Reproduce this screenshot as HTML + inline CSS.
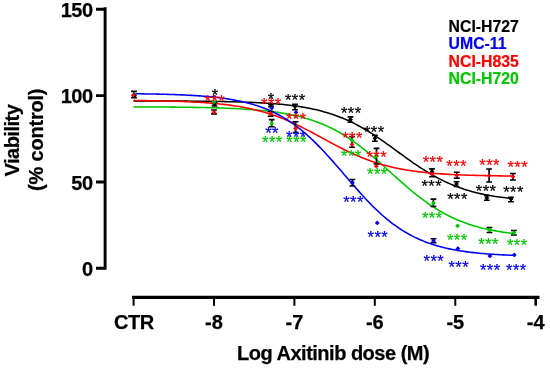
<!DOCTYPE html>
<html><head><meta charset="utf-8"><style>
html,body{margin:0;padding:0;background:#fff;width:550px;height:370px;overflow:hidden}
svg{display:block}
text{font-family:"Liberation Sans",Arial,sans-serif;font-weight:bold}
.st{font-weight:normal}
</style></head><body>
<svg width="550" height="370" viewBox="0 0 550 370">
<rect width="550" height="370" fill="#fff"/>
<g stroke="#000" stroke-width="2.9" fill="none">
<path d="M105.1,7.2 V269.7"/>
<path d="M96,9.3 H105 M96,95.6 H105 M96,182 H105 M96,268.3 H105"/>
</g>
<path d="M132,297.3 H539.5" stroke="#000" stroke-width="3.2"/>
<g stroke="#000" stroke-width="2" fill="none">
<path d="M133.6,297 V305.7 M214,297 V305.7 M294.4,297 V305.7 M374.8,297 V305.7 M455.3,297 V305.7"/>
<path d="M535.7,297 V305.7" stroke-width="2.6"/>
</g>
<g stroke="#000" stroke-width="0.25">
<g font-size="20" text-anchor="end" letter-spacing="-0.5" transform="translate(0,0.3)">
<text x="92.6" y="16.6">150</text>
<text x="92.6" y="102.9">100</text>
<text x="92.6" y="189.3">50</text>
<text x="92.6" y="275.6">0</text>
</g>
<g font-size="20" text-anchor="middle">
<text x="133.8" y="328.6" letter-spacing="-0.5">CTR</text>
<text x="214" y="328.6">-8</text>
<text x="294.4" y="328.6">-7</text>
<text x="374.8" y="328.6">-6</text>
<text x="455.3" y="328.6">-5</text>
<text x="535.7" y="328.6">-4</text>
</g>
<text x="333.1" y="359.6" font-size="20" text-anchor="middle" letter-spacing="-0.5">Log Axitinib dose (M)</text>
<g font-size="20" text-anchor="middle">
<text transform="translate(19.3,140.6) rotate(-90)" letter-spacing="-0.5">Viability</text>
<text transform="translate(43.2,139.8) rotate(-90)" letter-spacing="-0.2">(% control)</text>
</g>
</g>
<g font-size="15.8" stroke-width="0.2">
<text x="448.6" y="31.6" fill="#000" stroke="#000">NCI-H727</text>
<text x="448.6" y="49.1" fill="#0000f0" stroke="#0000f0">UMC-11</text>
<text x="448.6" y="66.6" fill="#ff0000" stroke="#ff0000">NCI-H835</text>
<text x="448.6" y="83.9" fill="#00c400" stroke="#00c400">NCI-H720</text>
</g>
<path d="M133.5,100.95 L135.5,100.95 137.5,100.96 139.5,100.96 141.5,100.96 143.5,100.97 145.5,100.97 147.5,100.98 149.5,100.98 151.5,100.98 153.5,100.99 155.5,100.99 157.5,101.00 159.5,101.01 161.5,101.01 163.5,101.02 165.5,101.03 167.5,101.03 169.5,101.04 171.5,101.05 173.5,101.06 175.5,101.07 177.5,101.08 179.5,101.09 181.5,101.10 183.5,101.11 185.5,101.12 187.5,101.14 189.5,101.15 191.5,101.17 193.5,101.18 195.5,101.20 197.5,101.22 199.5,101.24 201.5,101.26 203.5,101.28 205.5,101.30 207.5,101.32 209.5,101.35 211.5,101.37 213.5,101.40 215.5,101.43 217.5,101.46 219.5,101.50 221.5,101.53 223.5,101.57 225.5,101.61 227.5,101.65 229.5,101.69 231.5,101.74 233.5,101.79 235.5,101.84 237.5,101.90 239.5,101.95 241.5,102.02 243.5,102.08 245.5,102.15 247.5,102.22 249.5,102.30 251.5,102.38 253.5,102.47 255.5,102.56 257.5,102.66 259.5,102.76 261.5,102.87 263.5,102.98 265.5,103.11 267.5,103.23 269.5,103.37 271.5,103.51 273.5,103.66 275.5,103.82 277.5,103.99 279.5,104.17 281.5,104.35 283.5,104.55 285.5,104.76 287.5,104.98 289.5,105.21 291.5,105.46 293.5,105.71 295.5,105.99 297.5,106.27 299.5,106.57 301.5,106.89 303.5,107.22 305.5,107.57 307.5,107.94 309.5,108.33 311.5,108.74 313.5,109.16 315.5,109.61 317.5,110.08 319.5,110.57 321.5,111.09 323.5,111.63 325.5,112.20 327.5,112.79 329.5,113.41 331.5,114.05 333.5,114.73 335.5,115.43 337.5,116.16 339.5,116.92 341.5,117.72 343.5,118.54 345.5,119.40 347.5,120.28 349.5,121.20 351.5,122.15 353.5,123.14 355.5,124.16 357.5,125.20 359.5,126.28 361.5,127.40 363.5,128.54 365.5,129.71 367.5,130.92 369.5,132.15 371.5,133.41 373.5,134.69 375.5,136.00 377.5,137.34 379.5,138.69 381.5,140.07 383.5,141.46 385.5,142.87 387.5,144.29 389.5,145.73 391.5,147.17 393.5,148.62 395.5,150.08 397.5,151.54 399.5,153.00 401.5,154.45 403.5,155.90 405.5,157.35 407.5,158.78 409.5,160.20 411.5,161.61 413.5,163.01 415.5,164.38 417.5,165.73 419.5,167.07 421.5,168.38 423.5,169.66 425.5,170.92 427.5,172.15 429.5,173.35 431.5,174.52 433.5,175.67 435.5,176.78 437.5,177.86 439.5,178.91 441.5,179.92 443.5,180.90 445.5,181.86 447.5,182.77 449.5,183.66 451.5,184.52 453.5,185.34 455.5,186.13 457.5,186.89 459.5,187.62 461.5,188.33 463.5,189.00 465.5,189.64 467.5,190.26 469.5,190.85 471.5,191.42 473.5,191.96 475.5,192.47 477.5,192.96 479.5,193.43 481.5,193.88 483.5,194.31 485.5,194.71 487.5,195.10 489.5,195.47 491.5,195.82 493.5,196.15 495.5,196.47 497.5,196.77 499.5,197.05 501.5,197.32 503.5,197.58 505.5,197.82 507.5,198.06 509.5,198.28 511.5,198.48 513.0,198.63" fill="none" stroke="#000000" stroke-width="1.55"/>
<path d="M133.5,106.91 L135.5,106.91 137.5,106.92 139.5,106.93 141.5,106.93 143.5,106.94 145.5,106.95 147.5,106.96 149.5,106.97 151.5,106.98 153.5,106.99 155.5,107.00 157.5,107.01 159.5,107.02 161.5,107.03 163.5,107.05 165.5,107.06 167.5,107.07 169.5,107.09 171.5,107.11 173.5,107.12 175.5,107.14 177.5,107.16 179.5,107.18 181.5,107.20 183.5,107.23 185.5,107.25 187.5,107.28 189.5,107.30 191.5,107.33 193.5,107.36 195.5,107.39 197.5,107.43 199.5,107.46 201.5,107.50 203.5,107.54 205.5,107.58 207.5,107.63 209.5,107.67 211.5,107.72 213.5,107.77 215.5,107.83 217.5,107.89 219.5,107.95 221.5,108.01 223.5,108.08 225.5,108.15 227.5,108.23 229.5,108.31 231.5,108.40 233.5,108.48 235.5,108.58 237.5,108.68 239.5,108.78 241.5,108.90 243.5,109.01 245.5,109.14 247.5,109.27 249.5,109.40 251.5,109.55 253.5,109.70 255.5,109.86 257.5,110.03 259.5,110.21 261.5,110.40 263.5,110.60 265.5,110.81 267.5,111.03 269.5,111.26 271.5,111.51 273.5,111.76 275.5,112.04 277.5,112.32 279.5,112.62 281.5,112.94 283.5,113.27 285.5,113.62 287.5,113.98 289.5,114.37 291.5,114.77 293.5,115.20 295.5,115.64 297.5,116.11 299.5,116.60 301.5,117.11 303.5,117.65 305.5,118.21 307.5,118.80 309.5,119.42 311.5,120.06 313.5,120.74 315.5,121.44 317.5,122.17 319.5,122.94 321.5,123.74 323.5,124.57 325.5,125.44 327.5,126.34 329.5,127.28 331.5,128.25 333.5,129.26 335.5,130.31 337.5,131.40 339.5,132.52 341.5,133.68 343.5,134.88 345.5,136.12 347.5,137.40 349.5,138.72 351.5,140.07 353.5,141.46 355.5,142.89 357.5,144.35 359.5,145.85 361.5,147.38 363.5,148.95 365.5,150.54 367.5,152.17 369.5,153.82 371.5,155.50 373.5,157.20 375.5,158.92 377.5,160.67 379.5,162.43 381.5,164.21 383.5,165.99 385.5,167.79 387.5,169.59 389.5,171.40 391.5,173.21 393.5,175.02 395.5,176.82 397.5,178.62 399.5,180.41 401.5,182.18 403.5,183.94 405.5,185.68 407.5,187.40 409.5,189.10 411.5,190.78 413.5,192.43 415.5,194.05 417.5,195.65 419.5,197.21 421.5,198.74 423.5,200.23 425.5,201.69 427.5,203.12 429.5,204.50 431.5,205.85 433.5,207.17 435.5,208.44 437.5,209.68 439.5,210.87 441.5,212.03 443.5,213.15 445.5,214.23 447.5,215.28 449.5,216.29 451.5,217.26 453.5,218.19 455.5,219.09 457.5,219.95 459.5,220.78 461.5,221.58 463.5,222.34 465.5,223.07 467.5,223.78 469.5,224.45 471.5,225.09 473.5,225.70 475.5,226.29 477.5,226.85 479.5,227.39 481.5,227.90 483.5,228.39 485.5,228.85 487.5,229.29 489.5,229.72 491.5,230.12 493.5,230.50 495.5,230.87 497.5,231.21 499.5,231.54 501.5,231.86 503.5,232.16 505.5,232.44 507.5,232.71 509.5,232.97 511.5,233.21 513.0,233.38" fill="none" stroke="#00c400" stroke-width="1.55"/>
<path d="M133.5,100.50 L135.5,100.52 137.5,100.54 139.5,100.56 141.5,100.58 143.5,100.61 145.5,100.64 147.5,100.66 149.5,100.69 151.5,100.72 153.5,100.76 155.5,100.79 157.5,100.83 159.5,100.87 161.5,100.91 163.5,100.95 165.5,101.00 167.5,101.05 169.5,101.10 171.5,101.15 173.5,101.21 175.5,101.27 177.5,101.34 179.5,101.41 181.5,101.48 183.5,101.55 185.5,101.63 187.5,101.72 189.5,101.81 191.5,101.90 193.5,102.00 195.5,102.11 197.5,102.22 199.5,102.34 201.5,102.46 203.5,102.60 205.5,102.73 207.5,102.88 209.5,103.04 211.5,103.20 213.5,103.37 215.5,103.55 217.5,103.74 219.5,103.94 221.5,104.15 223.5,104.37 225.5,104.61 227.5,104.85 229.5,105.11 231.5,105.38 233.5,105.67 235.5,105.97 237.5,106.28 239.5,106.61 241.5,106.96 243.5,107.32 245.5,107.70 247.5,108.10 249.5,108.52 251.5,108.95 253.5,109.41 255.5,109.88 257.5,110.38 259.5,110.90 261.5,111.44 263.5,112.00 265.5,112.58 267.5,113.19 269.5,113.82 271.5,114.47 273.5,115.15 275.5,115.85 277.5,116.58 279.5,117.32 281.5,118.10 283.5,118.89 285.5,119.71 287.5,120.56 289.5,121.42 291.5,122.31 293.5,123.22 295.5,124.15 297.5,125.10 299.5,126.07 301.5,127.06 303.5,128.07 305.5,129.09 307.5,130.12 309.5,131.17 311.5,132.22 313.5,133.29 315.5,134.37 317.5,135.45 319.5,136.53 321.5,137.62 323.5,138.71 325.5,139.80 327.5,140.89 329.5,141.97 331.5,143.05 333.5,144.12 335.5,145.18 337.5,146.22 339.5,147.26 341.5,148.28 343.5,149.29 345.5,150.28 347.5,151.25 349.5,152.21 351.5,153.14 353.5,154.05 355.5,154.94 357.5,155.81 359.5,156.66 361.5,157.48 363.5,158.28 365.5,159.06 367.5,159.81 369.5,160.54 371.5,161.25 373.5,161.93 375.5,162.59 377.5,163.22 379.5,163.83 381.5,164.42 383.5,164.98 385.5,165.52 387.5,166.04 389.5,166.54 391.5,167.02 393.5,167.48 395.5,167.92 397.5,168.34 399.5,168.74 401.5,169.12 403.5,169.49 405.5,169.83 407.5,170.17 409.5,170.48 411.5,170.79 413.5,171.07 415.5,171.35 417.5,171.61 419.5,171.86 421.5,172.09 423.5,172.32 425.5,172.53 427.5,172.73 429.5,172.92 431.5,173.10 433.5,173.28 435.5,173.44 437.5,173.60 439.5,173.74 441.5,173.88 443.5,174.02 445.5,174.14 447.5,174.26 449.5,174.37 451.5,174.48 453.5,174.58 455.5,174.68 457.5,174.77 459.5,174.85 461.5,174.93 463.5,175.01 465.5,175.08 467.5,175.15 469.5,175.22 471.5,175.28 473.5,175.34 475.5,175.39 477.5,175.44 479.5,175.49 481.5,175.54 483.5,175.58 485.5,175.63 487.5,175.67 489.5,175.70 491.5,175.74 493.5,175.77 495.5,175.80 497.5,175.83 499.5,175.86 501.5,175.89 503.5,175.91 505.5,175.94 507.5,175.96 509.5,175.98 511.5,176.00 513.0,176.01" fill="none" stroke="#ff0000" stroke-width="1.55"/>
<path d="M133.5,93.75 L135.5,93.77 137.5,93.79 139.5,93.82 141.5,93.85 143.5,93.88 145.5,93.91 147.5,93.94 149.5,93.97 151.5,94.01 153.5,94.05 155.5,94.09 157.5,94.13 159.5,94.17 161.5,94.22 163.5,94.27 165.5,94.33 167.5,94.38 169.5,94.44 171.5,94.50 173.5,94.57 175.5,94.64 177.5,94.72 179.5,94.80 181.5,94.88 183.5,94.97 185.5,95.06 187.5,95.16 189.5,95.27 191.5,95.38 193.5,95.50 195.5,95.62 197.5,95.75 199.5,95.89 201.5,96.04 203.5,96.19 205.5,96.35 207.5,96.53 209.5,96.71 211.5,96.90 213.5,97.11 215.5,97.32 217.5,97.55 219.5,97.79 221.5,98.04 223.5,98.31 225.5,98.59 227.5,98.89 229.5,99.20 231.5,99.54 233.5,99.88 235.5,100.25 237.5,100.64 239.5,101.05 241.5,101.48 243.5,101.93 245.5,102.41 247.5,102.91 249.5,103.44 251.5,103.99 253.5,104.58 255.5,105.19 257.5,105.83 259.5,106.51 261.5,107.22 263.5,107.96 265.5,108.74 267.5,109.56 269.5,110.41 271.5,111.30 273.5,112.24 275.5,113.21 277.5,114.23 279.5,115.30 281.5,116.41 283.5,117.56 285.5,118.77 287.5,120.02 289.5,121.32 291.5,122.67 293.5,124.07 295.5,125.53 297.5,127.03 299.5,128.58 301.5,130.19 303.5,131.85 305.5,133.56 307.5,135.32 309.5,137.12 311.5,138.98 313.5,140.89 315.5,142.84 317.5,144.83 319.5,146.87 321.5,148.95 323.5,151.06 325.5,153.22 327.5,155.40 329.5,157.62 331.5,159.86 333.5,162.13 335.5,164.41 337.5,166.72 339.5,169.04 341.5,171.36 343.5,173.70 345.5,176.03 347.5,178.36 349.5,180.69 351.5,183.01 353.5,185.32 355.5,187.61 357.5,189.87 359.5,192.12 361.5,194.34 363.5,196.53 365.5,198.68 367.5,200.80 369.5,202.88 371.5,204.93 373.5,206.93 375.5,208.88 377.5,210.79 379.5,212.65 381.5,214.47 383.5,216.23 385.5,217.94 387.5,219.61 389.5,221.22 391.5,222.78 393.5,224.29 395.5,225.74 397.5,227.15 399.5,228.51 401.5,229.81 403.5,231.07 405.5,232.28 407.5,233.44 409.5,234.55 411.5,235.62 413.5,236.65 415.5,237.63 417.5,238.57 419.5,239.46 421.5,240.32 423.5,241.14 425.5,241.92 427.5,242.67 429.5,243.38 431.5,244.06 433.5,244.71 435.5,245.32 437.5,245.91 439.5,246.47 441.5,247.00 443.5,247.50 445.5,247.98 447.5,248.44 449.5,248.87 451.5,249.28 453.5,249.67 455.5,250.04 457.5,250.39 459.5,250.72 461.5,251.04 463.5,251.34 465.5,251.62 467.5,251.89 469.5,252.15 471.5,252.39 473.5,252.62 475.5,252.83 477.5,253.04 479.5,253.23 481.5,253.41 483.5,253.59 485.5,253.75 487.5,253.91 489.5,254.06 491.5,254.20 493.5,254.33 495.5,254.45 497.5,254.57 499.5,254.68 501.5,254.79 503.5,254.89 505.5,254.98 507.5,255.07 509.5,255.15 511.5,255.23 513.0,255.29" fill="none" stroke="#0000f0" stroke-width="1.55"/>

<path d="M134.0,91.4 V97.8" stroke="#000" stroke-width="1.7"/><path d="M131.1,91.4 H136.9 M131.1,97.8 H136.9" stroke="#000" stroke-width="1.6"/><path d="M214.5,102.0 V106.0" stroke="#000" stroke-width="1.7"/><path d="M211.6,102.0 H217.4 M211.6,106.0 H217.4" stroke="#000" stroke-width="1.6"/><path d="M214.0,110.0 V113.9" stroke="#000" stroke-width="1.7"/><path d="M211.1,110.0 H216.9 M211.1,113.9 H216.9" stroke="#000" stroke-width="1.6"/><path d="M271.0,104.2 V106.6" stroke="#000" stroke-width="1.7"/><path d="M268.1,104.2 H273.9 M268.1,106.6 H273.9" stroke="#000" stroke-width="1.6"/><path d="M270.6,111.5 V116.3" stroke="#000" stroke-width="1.7"/><path d="M267.7,111.5 H273.5 M267.7,116.3 H273.5" stroke="#000" stroke-width="1.6"/><path d="M271.7,119.6 V126.8" stroke="#000" stroke-width="1.7"/><path d="M268.8,119.6 H274.6 M268.8,126.8 H274.6" stroke="#000" stroke-width="1.6"/><path d="M295.0,104.4 V109.7" stroke="#000" stroke-width="1.7"/><path d="M292.1,104.4 H297.9 M292.1,109.7 H297.9" stroke="#000" stroke-width="1.6"/><path d="M295.5,121.7 V132.5" stroke="#000" stroke-width="1.7"/><path d="M292.6,121.7 H298.4 M292.6,132.5 H298.4" stroke="#000" stroke-width="1.6"/><path d="M350.5,116.9 V122.3" stroke="#000" stroke-width="1.7"/><path d="M347.6,116.9 H353.4 M347.6,122.3 H353.4" stroke="#000" stroke-width="1.6"/><path d="M352.0,136.5 V147.3" stroke="#000" stroke-width="1.7"/><path d="M349.1,136.5 H354.9 M349.1,147.3 H354.9" stroke="#000" stroke-width="1.6"/><path d="M352.4,179.5 V186.0" stroke="#000" stroke-width="1.7"/><path d="M349.5,179.5 H355.3 M349.5,186.0 H355.3" stroke="#000" stroke-width="1.6"/><path d="M374.9,135.4 V141.3" stroke="#000" stroke-width="1.7"/><path d="M372.0,135.4 H377.8 M372.0,141.3 H377.8" stroke="#000" stroke-width="1.6"/><path d="M376.5,148.4 V164.0" stroke="#000" stroke-width="1.7"/><path d="M373.6,148.4 H379.4 M373.6,164.0 H379.4" stroke="#000" stroke-width="1.6"/><path d="M432.0,168.9 V176.8" stroke="#000" stroke-width="1.7"/><path d="M429.1,168.9 H434.9 M429.1,176.8 H434.9" stroke="#000" stroke-width="1.6"/><path d="M433.4,199.1 V206.5" stroke="#000" stroke-width="1.7"/><path d="M430.5,199.1 H436.3 M430.5,206.5 H436.3" stroke="#000" stroke-width="1.6"/><path d="M433.5,238.8 V242.8" stroke="#000" stroke-width="1.7"/><path d="M430.6,238.8 H436.4 M430.6,242.8 H436.4" stroke="#000" stroke-width="1.6"/><path d="M456.5,181.8 V186.5" stroke="#000" stroke-width="1.7"/><path d="M453.6,181.8 H459.4 M453.6,186.5 H459.4" stroke="#000" stroke-width="1.6"/><path d="M456.8,172.3 V178.1" stroke="#000" stroke-width="1.7"/><path d="M453.9,172.3 H459.7 M453.9,178.1 H459.7" stroke="#000" stroke-width="1.6"/><path d="M486.8,195.6 V200.3" stroke="#000" stroke-width="1.7"/><path d="M483.9,195.6 H489.7 M483.9,200.3 H489.7" stroke="#000" stroke-width="1.6"/><path d="M489.1,169.0 V182.0" stroke="#000" stroke-width="1.7"/><path d="M486.2,169.0 H492.0 M486.2,182.0 H492.0" stroke="#000" stroke-width="1.6"/><path d="M489.5,227.5 V232.5" stroke="#000" stroke-width="1.7"/><path d="M486.6,227.5 H492.4 M486.6,232.5 H492.4" stroke="#000" stroke-width="1.6"/><path d="M511.0,197.2 V201.7" stroke="#000" stroke-width="1.7"/><path d="M508.1,197.2 H513.9 M508.1,201.7 H513.9" stroke="#000" stroke-width="1.6"/><path d="M512.9,173.5 V180.0" stroke="#000" stroke-width="1.7"/><path d="M510.0,173.5 H515.8 M510.0,180.0 H515.8" stroke="#000" stroke-width="1.6"/><path d="M513.9,230.5 V235.0" stroke="#000" stroke-width="1.7"/><path d="M511.0,230.5 H516.8 M511.0,235.0 H516.8" stroke="#000" stroke-width="1.6"/><path d="M134.4,92.2 L136.8,94.6 L134.4,97.0 L132.0,94.6Z" fill="#00c400"/>
<path d="M134.6,93.2 L137.0,95.6 L134.6,98.0 L132.2,95.6Z" fill="#0000f0"/>
<path d="M134.0,93.8 L136.4,96.2 L134.0,98.6 L131.6,96.2Z" fill="#000000"/>
<path d="M133.3,92.8 L135.7,95.2 L133.3,97.6 L130.9,95.2Z" fill="#ff0000"/>
<path d="M214.0,94.6 L216.4,97.0 L214.0,99.4 L211.6,97.0Z" fill="#0000f0"/>
<path d="M214.5,101.8 L216.9,104.2 L214.5,106.6 L212.1,104.2Z" fill="#000000"/>
<path d="M214.0,99.4 L216.4,101.8 L214.0,104.2 L211.6,101.8Z" fill="#00c400"/>
<path d="M214.0,109.8 L216.4,112.2 L214.0,114.6 L211.6,112.2Z" fill="#ff0000"/>
<path d="M271.0,102.7 L273.4,105.1 L271.0,107.5 L268.6,105.1Z" fill="#000000"/>
<path d="M271.7,105.6 L274.1,108.0 L271.7,110.4 L269.3,108.0Z" fill="#0000f0"/>
<path d="M270.6,111.4 L273.0,113.8 L270.6,116.2 L268.2,113.8Z" fill="#ff0000"/>
<path d="M271.7,121.0 L274.1,123.4 L271.7,125.8 L269.3,123.4Z" fill="#00c400"/>
<path d="M295.0,104.1 L297.4,106.5 L295.0,108.9 L292.6,106.5Z" fill="#000000"/>
<path d="M296.0,110.0 L298.4,112.4 L296.0,114.8 L293.6,112.4Z" fill="#0000f0"/>
<path d="M295.5,113.6 L297.9,116.0 L295.5,118.4 L293.1,116.0Z" fill="#00c400"/>
<path d="M295.5,126.1 L297.9,128.5 L295.5,130.9 L293.1,128.5Z" fill="#ff0000"/>
<path d="M350.5,117.2 L352.9,119.6 L350.5,122.0 L348.1,119.6Z" fill="#000000"/>
<path d="M352.0,137.9 L354.4,140.3 L352.0,142.7 L349.6,140.3Z" fill="#00c400"/>
<path d="M352.0,142.0 L354.4,144.4 L352.0,146.8 L349.6,144.4Z" fill="#ff0000"/>
<path d="M352.4,180.3 L354.8,182.7 L352.4,185.1 L350.0,182.7Z" fill="#0000f0"/>
<path d="M374.9,135.9 L377.3,138.3 L374.9,140.7 L372.5,138.3Z" fill="#000000"/>
<path d="M376.5,153.8 L378.9,156.2 L376.5,158.6 L374.1,156.2Z" fill="#00c400"/>
<path d="M376.3,163.8 L378.7,166.2 L376.3,168.6 L373.9,166.2Z" fill="#ff0000"/>
<path d="M377.2,220.5 L379.6,222.9 L377.2,225.3 L374.8,222.9Z" fill="#0000f0"/>
<path d="M432.0,169.1 L434.4,171.5 L432.0,173.9 L429.6,171.5Z" fill="#000000"/>
<path d="M432.0,171.9 L434.4,174.3 L432.0,176.7 L429.6,174.3Z" fill="#ff0000"/>
<path d="M433.4,200.7 L435.8,203.1 L433.4,205.5 L431.0,203.1Z" fill="#00c400"/>
<path d="M433.5,238.6 L435.9,241.0 L433.5,243.4 L431.1,241.0Z" fill="#0000f0"/>
<path d="M456.5,181.6 L458.9,184.0 L456.5,186.4 L454.1,184.0Z" fill="#000000"/>
<path d="M456.8,172.9 L459.2,175.3 L456.8,177.7 L454.4,175.3Z" fill="#ff0000"/>
<path d="M457.6,223.4 L460.0,225.8 L457.6,228.2 L455.2,225.8Z" fill="#00c400"/>
<path d="M457.9,246.2 L460.3,248.6 L457.9,251.0 L455.5,248.6Z" fill="#0000f0"/>
<path d="M486.8,195.6 L489.2,198.0 L486.8,200.4 L484.4,198.0Z" fill="#000000"/>
<path d="M489.1,173.2 L491.5,175.6 L489.1,178.0 L486.7,175.6Z" fill="#ff0000"/>
<path d="M489.5,227.6 L491.9,230.0 L489.5,232.4 L487.1,230.0Z" fill="#00c400"/>
<path d="M489.9,253.5 L492.3,255.9 L489.9,258.3 L487.5,255.9Z" fill="#0000f0"/>
<path d="M511.0,196.6 L513.4,199.0 L511.0,201.4 L508.6,199.0Z" fill="#000000"/>
<path d="M512.9,174.2 L515.3,176.6 L512.9,179.0 L510.5,176.6Z" fill="#ff0000"/>
<path d="M513.9,230.4 L516.3,232.8 L513.9,235.2 L511.5,232.8Z" fill="#00c400"/>
<path d="M514.3,252.5 L516.7,254.9 L514.3,257.3 L511.9,254.9Z" fill="#0000f0"/>

<g font-size="16.5" letter-spacing="0.45" stroke-width="0.25">
<text class="st" x="211.7" y="101.3" fill="#000000" stroke="#000000">*</text>
<text class="st" x="204.6" y="107.3" fill="#ff0000" stroke="#ff0000">***</text>
<text class="st" x="267.8" y="104.8" fill="#000000" stroke="#000000">*</text>
<text class="st" x="261.1" y="110.1" fill="#ff0000" stroke="#ff0000">***</text>
<text class="st" x="265.2" y="138.8" fill="#0000f0" stroke="#0000f0">**</text>
<text class="st" x="262.1" y="148.4" fill="#00c400" stroke="#00c400">***</text>
<text class="st" x="285.0" y="105.6" fill="#000000" stroke="#000000">***</text>
<text class="st" x="285.9" y="124.8" fill="#ff0000" stroke="#ff0000">***</text>
<text class="st" x="286.1" y="142.6" fill="#0000f0" stroke="#0000f0">***</text>
<text class="st" x="286.3" y="148.4" fill="#00c400" stroke="#00c400">***</text>
<text class="st" x="341.0" y="118.7" fill="#000000" stroke="#000000">***</text>
<text class="st" x="342.2" y="143.5" fill="#ff0000" stroke="#ff0000">***</text>
<text class="st" x="341.1" y="161.8" fill="#00c400" stroke="#00c400">***</text>
<text class="st" x="343.2" y="208.2" fill="#0000f0" stroke="#0000f0">***</text>
<text class="st" x="364.0" y="137.7" fill="#000000" stroke="#000000">***</text>
<text class="st" x="366.5" y="162.6" fill="#ff0000" stroke="#ff0000">***</text>
<text class="st" x="367.1" y="180.4" fill="#00c400" stroke="#00c400">***</text>
<text class="st" x="367.6" y="243.0" fill="#0000f0" stroke="#0000f0">***</text>
<text class="st" x="422.7" y="168.1" fill="#ff0000" stroke="#ff0000">***</text>
<text class="st" x="421.4" y="191.9" fill="#000000" stroke="#000000">***</text>
<text class="st" x="421.9" y="223.8" fill="#00c400" stroke="#00c400">***</text>
<text class="st" x="423.6" y="267.2" fill="#0000f0" stroke="#0000f0">***</text>
<text class="st" x="446.3" y="172.3" fill="#ff0000" stroke="#ff0000">***</text>
<text class="st" x="447.2" y="204.8" fill="#000000" stroke="#000000">***</text>
<text class="st" x="446.9" y="245.6" fill="#00c400" stroke="#00c400">***</text>
<text class="st" x="448.5" y="273.0" fill="#0000f0" stroke="#0000f0">***</text>
<text class="st" x="479.3" y="171.2" fill="#ff0000" stroke="#ff0000">***</text>
<text class="st" x="475.8" y="196.9" fill="#000000" stroke="#000000">***</text>
<text class="st" x="478.3" y="250.0" fill="#00c400" stroke="#00c400">***</text>
<text class="st" x="479.9" y="275.6" fill="#0000f0" stroke="#0000f0">***</text>
<text class="st" x="507.5" y="172.6" fill="#ff0000" stroke="#ff0000">***</text>
<text class="st" x="503.2" y="197.7" fill="#000000" stroke="#000000">***</text>
<text class="st" x="507.0" y="251.3" fill="#00c400" stroke="#00c400">***</text>
<text class="st" x="506.1" y="275.6" fill="#0000f0" stroke="#0000f0">***</text>
</g>
</svg>
</body></html>
